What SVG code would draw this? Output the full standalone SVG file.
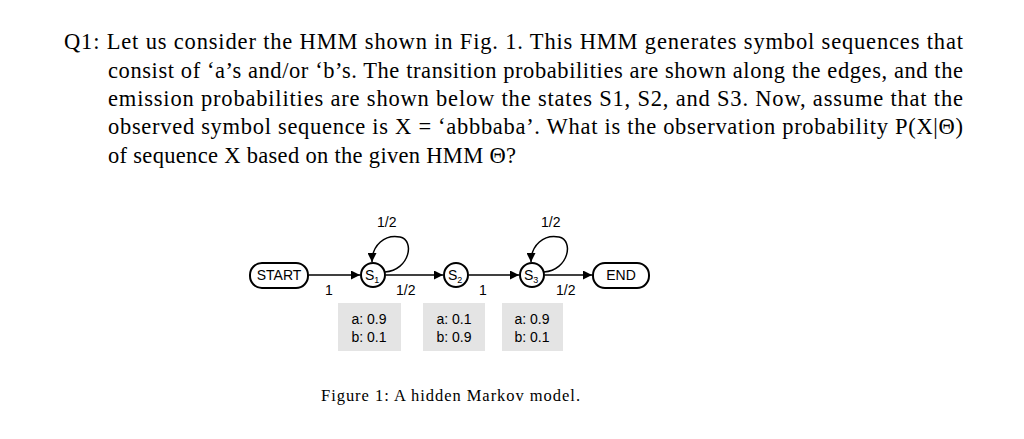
<svg xmlns="http://www.w3.org/2000/svg" width="1024" height="439" viewBox="0 0 1024 439">
<style>
.q{font-family:"Liberation Serif",serif;font-size:22.5px;fill:#000}
.d{font-family:"Liberation Sans",Arial,sans-serif;font-size:14px;fill:#000}
.n{fill:#fff;stroke:#000;stroke-width:2}
.e{fill:none;stroke:#000;stroke-width:1.5;marker-end:url(#a)}
.b{fill:#e4e4e4}
</style>
<defs><marker id="a" viewBox="0 0 10 10" refX="10" refY="5" markerWidth="6" markerHeight="6" orient="auto"><path d="M0,0L10,5L0,10z" fill="#000"/></marker></defs>
<rect width="1024" height="439" fill="#fff"/>
<text class="q" x="64" y="49" textLength="899" lengthAdjust="spacing">Q1: Let us consider the HMM shown in Fig. 1. This HMM generates symbol sequences that</text>
<text class="q" x="108" y="78" textLength="855" lengthAdjust="spacing">consist of ‘a’s and/or ‘b’s. The transition probabilities are shown along the edges, and the</text>
<text class="q" x="108" y="106" textLength="855" lengthAdjust="spacing">emission probabilities are shown below the states S1, S2, and S3. Now, assume that the</text>
<text class="q" x="108" y="134" textLength="855" lengthAdjust="spacing">observed symbol sequence is X = ‘abbbaba’. What is the observation probability P(X|Θ)</text>
<text class="q" x="108" y="163" textLength="408" lengthAdjust="spacing">of sequence X based on the given HMM Θ?</text>
<g id="connectors">
<path class="e" d="M309,275H360"/>
<path class="e" d="M386,275H443"/>
<path class="e" d="M469,275H519"/>
<path class="e" d="M545,275H592"/>
<path class="e" d="M385,272C410,270 415,240 400,237C385,234 372,245 372,262"/>
<path class="e" d="M544,272C569,270 574,240 559,237C544,234 531,245 531,262"/>
<text class="d" x="325" y="295">1</text>
<text class="d" x="396" y="295">1/2</text>
<text class="d" x="479" y="295">1</text>
<text class="d" x="556" y="295">1/2</text>
<text class="d" x="377" y="227">1/2</text>
<text class="d" x="541" y="227">1/2</text>
</g>
<g id="start"><rect class="n" x="250" y="263" width="58" height="25" rx="12"/><text class="d" x="279" y="280" text-anchor="middle">START</text></g>
<g id="s1"><circle class="n" cx="373" cy="275" r="12"/><text class="d" x="365" y="280">S<tspan font-size="9" dy="3">1</tspan></text></g>
<g id="s2"><circle class="n" cx="456" cy="275" r="12"/><text class="d" x="448" y="280">S<tspan font-size="9" dy="3">2</tspan></text></g>
<g id="s3"><circle class="n" cx="532" cy="275" r="12"/><text class="d" x="524" y="280">S<tspan font-size="9" dy="3">3</tspan></text></g>
<g id="end"><rect class="n" x="593" y="263" width="56" height="25" rx="12"/><text class="d" x="621" y="280" text-anchor="middle">END</text></g>
<g id="e1"><rect class="b" x="338" y="303" width="63" height="48"/><text class="d" x="369" y="324" text-anchor="middle">a: 0.9</text><text class="d" x="369" y="342" text-anchor="middle">b: 0.1</text></g>
<g id="e2"><rect class="b" x="423" y="303" width="62" height="48"/><text class="d" x="454" y="324" text-anchor="middle">a: 0.1</text><text class="d" x="454" y="342" text-anchor="middle">b: 0.9</text></g>
<g id="e3"><rect class="b" x="502" y="303" width="61" height="48"/><text class="d" x="532" y="324" text-anchor="middle">a: 0.9</text><text class="d" x="532" y="342" text-anchor="middle">b: 0.1</text></g>
<text x="321" y="401" font-family="Liberation Serif,serif" font-size="16.5" textLength="259" lengthAdjust="spacing">Figure 1: A hidden Markov model.</text>
</svg>
